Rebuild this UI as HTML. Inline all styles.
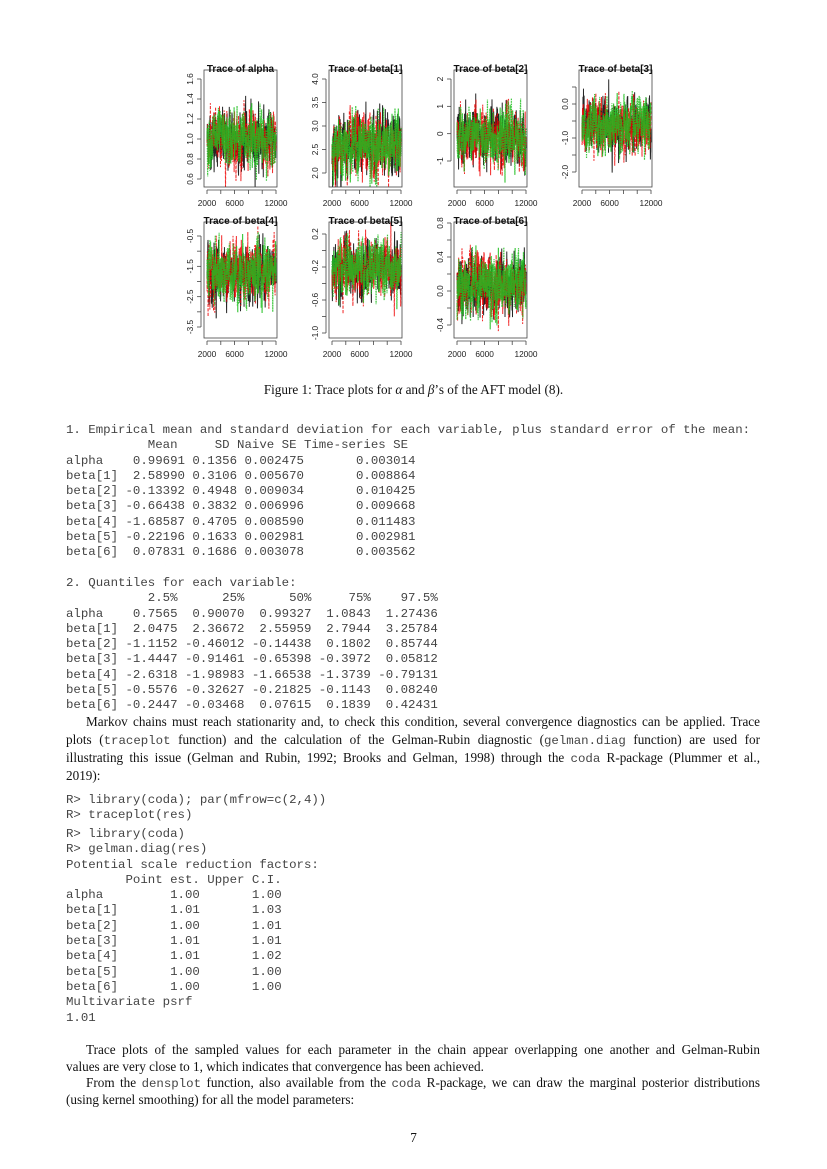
<!DOCTYPE html>
<html><head><meta charset="utf-8">
<style>
body{margin:0;background:#fff;}
#pg{position:relative;width:827px;height:1169px;overflow:hidden;background:#fff;}
.m{position:absolute;left:66px;font-family:"Liberation Mono",monospace;font-size:12.4px;color:#444;white-space:pre;line-height:15.3px;}
.t{position:absolute;left:66px;width:694px;font-family:"Liberation Serif",serif;font-size:13.2px;color:#111;white-space:nowrap;line-height:17px;}
.j{text-align:justify;text-align-last:justify;white-space:normal;}
.t code{font-family:"Liberation Mono",monospace;font-size:12.4px;color:#444;}
svg text{font-family:"Liberation Sans",sans-serif;}
</style></head><body><div id="pg">
<svg id="plots" width="827" height="370" style="position:absolute;left:0;top:0"></svg>
<div class="t" style="top:381px;left:0;width:827px;text-align:center">Figure 1: Trace plots for <i>α</i> and <i>β</i>’s of the AFT model (8).</div>
<div class="m" style="top:423px">1. Empirical mean and standard deviation for each variable, plus standard error of the mean:
           Mean     SD Naive SE Time-series SE
alpha    0.99691 0.1356 0.002475       0.003014
beta[1]  2.58990 0.3106 0.005670       0.008864
beta[2] -0.13392 0.4948 0.009034       0.010425
beta[3] -0.66438 0.3832 0.006996       0.009668
beta[4] -1.68587 0.4705 0.008590       0.011483
beta[5] -0.22196 0.1633 0.002981       0.002981
beta[6]  0.07831 0.1686 0.003078       0.003562</div>
<div class="m" style="top:576px">2. Quantiles for each variable:
           2.5%      25%      50%     75%    97.5%
alpha    0.7565  0.90070  0.99327  1.0843  1.27436
beta[1]  2.0475  2.36672  2.55959  2.7944  3.25784
beta[2] -1.1152 -0.46012 -0.14438  0.1802  0.85744
beta[3] -1.4447 -0.91461 -0.65398 -0.3972  0.05812
beta[4] -2.6318 -1.98983 -1.66538 -1.3739 -0.79131
beta[5] -0.5576 -0.32627 -0.21825 -0.1143  0.08240
beta[6] -0.2447 -0.03468  0.07615  0.1839  0.42431</div>
<div class="t j" style="top:713px;text-indent:20px">Markov chains must reach stationarity and, to check this condition, several convergence diagnostics can be applied. Trace</div>
<div class="t j" style="top:731px">plots (<code>traceplot</code> function) and the calculation of the Gelman-Rubin diagnostic (<code>gelman.diag</code> function) are used for</div>
<div class="t j" style="top:749px">illustrating this issue (Gelman and Rubin, 1992; Brooks and Gelman, 1998) through the <code>coda</code> R-package (Plummer et al.,</div>
<div class="t" style="top:767px">2019):</div>
<div class="m" style="top:793px">R&gt; library(coda); par(mfrow=c(2,4))
R&gt; traceplot(res)</div>
<div class="m" style="top:827px">R&gt; library(coda)
R&gt; gelman.diag(res)
Potential scale reduction factors:
        Point est. Upper C.I.
alpha         1.00       1.00
beta[1]       1.01       1.03
beta[2]       1.00       1.01
beta[3]       1.01       1.01
beta[4]       1.01       1.02
beta[5]       1.00       1.00
beta[6]       1.00       1.00
Multivariate psrf
1.01</div>
<div class="t j" style="top:1041px;text-indent:20px">Trace plots of the sampled values for each parameter in the chain appear overlapping one another and Gelman-Rubin</div>
<div class="t" style="top:1058px">values are very close to 1, which indicates that convergence has been achieved.</div>
<div class="t j" style="top:1074px;text-indent:20px">From the <code>densplot</code> function, also available from the <code>coda</code> R-package, we can draw the marginal posterior distributions</div>
<div class="t" style="top:1091px">(using kernel smoothing) for all the model parameters:</div>
<div class="t" style="top:1129px;left:0;width:827px;text-align:center">7</div>
</div>
<script>
(function(){
var s=12345;function r(){s=(s*1103515245+12345)%2147483648;return s/2147483648;}
function g(){var u=r()||1e-9,v=r();return Math.sqrt(-2*Math.log(u))*Math.cos(6.2832*v);}
var P=[
["alpha",0,0,.997,.1356,[0.6,179],[1.6,79],[.6,.8,1,1.2,1.4,1.6],[.6,.8,1,1.2,1.4,1.6],1],
["beta[1]",1,0,2.59,.31,[2,173],[4,79],[2,2.5,3,3.5,4],[2,2.5,3,3.5,4],1],
["beta[2]",2,0,-.134,.495,[2,79],[-1,161],[-1,0,1,2],[-1,0,1,2],0],
["beta[3]",3,0,-.664,.383,[0,104],[-2,172],[-2,-1.5,-1,-.5,0,.5],[-2,-1,0],1],
["beta[4]",0,1,-1.686,.47,[-.5,236],[-3.5,327],[-3.5,-3,-2.5,-2,-1.5,-1,-.5],[-3.5,-2.5,-1.5,-.5],1],
["beta[5]",1,1,-.222,.163,[.2,234],[-1,333],[-1,-.8,-.6,-.4,-.2,0,.2],[-1,-.6,-.2,.2],1],
["beta[6]",2,1,.078,.169,[.8,223],[-.4,325],[-.4,-.2,0,.2,.4,.6,.8],[-.4,0,.4,.8],1]];
var h='<defs>';
P.forEach(function(p,i){var x0=204+p[1]*125,y0=p[2]?222:70,y1=p[2]?338:187;h+='<clipPath id="c'+i+'"><rect x="'+x0+'" y="'+y0+'" width="73" height="'+(y1-y0)+'"/></clipPath>';});
h+='</defs>';
P.forEach(function(p,i){
 var x0=204+p[1]*125,y0=p[2]?222:70,y1=p[2]?338:187,ax=y1+3;
 var k=(p[6][1]-p[5][1])/(p[6][0]-p[5][0]);function Y(v){return p[5][1]+(v-p[5][0])*k;}
 function X(t){return x0+3+(t-2000)/10000*69;}
 h+='<g clip-path="url(#c'+i+')">';
 [["#000","",1.0],["#e00","3,1.5",1.0],["#22c022","1.5,1",1.2]].forEach(function(c){
  var pts=[],z=0,N=700;for(var j=0;j<=N;j++){z=.6*z+Math.sqrt(1-.36)*g();var v=p[3]+p[4]*z;pts.push((x0+3+j*69/N).toFixed(2)+','+Y(v).toFixed(2));}
  h+='<polyline points="'+pts.join(' ')+'" fill="none" stroke="'+c[0]+'" stroke-width="'+c[2]+'" stroke-dasharray="'+c[1]+'" opacity="0.85"/>';
 });
 h+='</g><rect x="'+x0+'" y="'+y0+'" width="73" height="'+(y1-y0)+'" fill="none" stroke="#444" stroke-width="0.8"/>';
 h+='<text x="'+(x0+36.5)+'" y="'+(y0+2)+'" text-anchor="middle" font-size="10" font-weight="bold" fill="#111">Trace of '+p[0]+'</text>';
 h+='<line x1="'+X(2000)+'" y1="'+ax+'" x2="'+X(12000)+'" y2="'+ax+'" stroke="#444" stroke-width="0.8"/>';
 for(var t=2000;t<=12000;t+=2000){h+='<line x1="'+X(t)+'" y1="'+ax+'" x2="'+X(t)+'" y2="'+(ax+4)+'" stroke="#444" stroke-width="0.8"/>';}
 [2000,6000,12000].forEach(function(t){h+='<text x="'+X(t)+'" y="'+(ax+16)+'" text-anchor="middle" font-size="8.3" fill="#222">'+t+'</text>';});
 var yt=p[7],ya=Y(yt[0]),yb=Y(yt[yt.length-1]),lx=x0-3;
 h+='<line x1="'+lx+'" y1="'+ya+'" x2="'+lx+'" y2="'+yb+'" stroke="#444" stroke-width="0.8"/>';
 yt.forEach(function(v){h+='<line x1="'+(lx-4)+'" y1="'+Y(v)+'" x2="'+lx+'" y2="'+Y(v)+'" stroke="#444" stroke-width="0.8"/>';});
 p[8].forEach(function(v){var l=p[9]?v.toFixed(1):String(v);var yy=Y(v);h+='<text transform="translate('+(lx-8)+','+yy+') rotate(-90)" text-anchor="middle" font-size="8.3" fill="#222">'+l+'</text>';});
});
document.getElementById('plots').innerHTML=h;
})();
</script>
</body></html>
